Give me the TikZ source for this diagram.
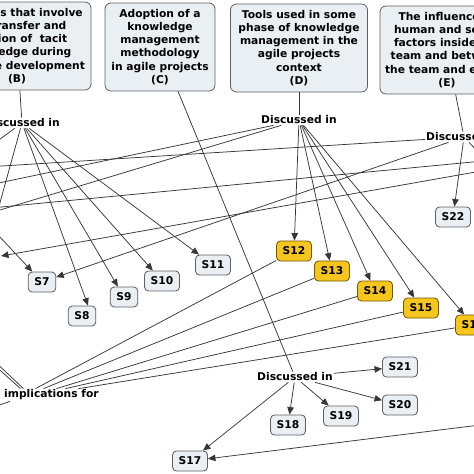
\documentclass[tikz,border=0pt]{standalone}
\usepackage{fontspec}
\setmainfont{DejaVu Sans}
\usetikzlibrary{arrows.meta}

\definecolor{boxfill}{RGB}{234,239,243}
\definecolor{boxline}{RGB}{95,95,95}
\definecolor{gold}{RGB}{246,197,30}
\definecolor{goldline}{RGB}{115,90,10}
\definecolor{linegray}{RGB}{55,55,55}

\tikzset{
  topbox/.style={draw=boxline, fill=boxfill, rounded corners=6pt, line width=0.8pt,
    align=center, font=\fontsize{10.7}{13.2}\selectfont\bfseries,
    minimum height=88pt, inner xsep=5pt, inner ysep=0pt},
  sbox/.style={draw=boxline, fill=boxfill, rounded corners=4pt, line width=0.85pt,
    font=\fontsize{10.7}{12}\selectfont\bfseries,
    minimum height=20pt, inner xsep=6.2pt, inner ysep=0pt},
  kbox/.style={sbox, draw=goldline, fill=gold},
  linkword/.style={font=\fontsize{10.7}{12}\selectfont\bfseries, inner sep=1pt},
  wire/.style={draw=linegray, line width=0.75pt},
  arr/.style={wire, -{Triangle[length=7.5pt,width=6.5pt]}}
}

\begin{document}
\begin{tikzpicture}[x=1pt,y=-1pt]
          \useasboundingbox (0,0) rectangle (474,474);
          \clip (0,0) rectangle (474,474);

          % question boxes
          \node[topbox, minimum width=148pt] (boxB) at (17,46)
            {Practices that involve\\the transfer and\\creation of~ tacit\\knowledge during\\software development\\(B)};
          \node[topbox, minimum width=110pt] (boxC) at (160,47)
            {Adoption of a\\knowledge\\management\\methodology\\in agile projects\\(C)};
          \node[topbox, minimum width=137pt] (boxD) at (299,48)
            {Tools used in some\\phase of knowledge\\management in the\\agile projects\\context\\(D)};
          \node[topbox, minimum width=134pt] (boxE) at (447,50)
            {The influence of\\human and social\\factors inside the\\team and between\\the team and expert\\(E)};

          % linking words
          \node[linkword] (lblB) at (22,123) {Discussed in};
          \node[linkword] (lblD) at (299,120) {Discussed in};
          \node[linkword] (lblE) at (464,137) {Discussed in};
          \node[linkword] (lblC) at (295,377) {Discussed in};
          \node[linkword, anchor=west] (impl) at (3,395) {implications for};

          % studies
          \foreach \name/\x/\y in {S7/42/282, S8/82/316, S9/124/297, S10/162/281,
                                   S11/213/265, S17/190/461, S18/288/425, S19/341/416,
                                   S20/400/405, S21/400/367, S22/453/217}
            \node[sbox] (\name) at (\x,\y) {\name};
          \foreach \name/\x/\y in {S12/294/251, S13/332/271, S14/375/291,
                                   S15/421/308, S16/473/325}
            \node[kbox] (\name) at (\x,\y) {\name};

          % ends outside the frame
          \coordinate (offE) at (-30,168);
          \coordinate (offE2) at (500,175);
          \coordinate (offD1) at (-30,189);
          \coordinate (offD2) at (-30,219);
          \coordinate (offR1) at (504,159);
          \coordinate (offL1) at (-30,210);
          \coordinate (offR2) at (504,167);
          \coordinate (offL2) at (1,256);
          \coordinate (offL3) at (-30,205);
          \coordinate (offB1) at (-7,228);
          \coordinate (offB2) at (-30,161);
          \coordinate (offR3) at (504,422);
          \coordinate (offI1) at (-30,338);
          \coordinate (offI2) at (-30,343);
          \coordinate (offI3) at (-30,415);

          \foreach \q/\l in {boxB/lblB, boxC/lblC, boxD/lblD, boxE/lblE}
            \draw[wire] (\q) -- (\l);

          \draw[arr] (lblB) -- (S8.60);
          \foreach \s in {S9,S10,S11}
            \draw[arr] (lblB) -- (\s);
          \draw[wire] (lblB) -- (offB1);
          \draw[wire] (offB2) -- (lblB);

          \foreach \s in {S12,S13,S14,S15,S16}
            \draw[arr] (lblD) -- (\s);
          \draw[wire] (lblD) -- (offD1);
          \draw[wire] (lblD) -- (offD2);

          \foreach \s in {S22,S7}
            \draw[arr] (lblE) -- (\s);
          \draw[wire] (lblE) -- (offE);
          \draw[wire] (lblE) -- (offE2);

          \foreach \s in {S17,S18,S19,S20,S21}
            \draw[arr] (lblC) -- (\s);

          \draw[wire] (offR1) -- (offL1);
          \draw[arr] (offR2) -- (offL2);
          \draw[arr] (offL3) -- (S7);
          \draw[arr] (offR3) -- (S17);

          \foreach \s/\dx in {S12/-16, S13/-8, S14/5, S15/14, S16/27}
            \draw[wire] (\s) -- ([xshift=\dx pt]impl.north);
          \draw[wire] ([xshift=-28pt]impl.north) -- (offI1);
          \draw[wire] ([xshift=-31pt]impl.north) -- (offI2);
          \draw[wire] ([xshift=7pt]impl.south west) -- (offI3);
        \end{tikzpicture}
\end{document}
